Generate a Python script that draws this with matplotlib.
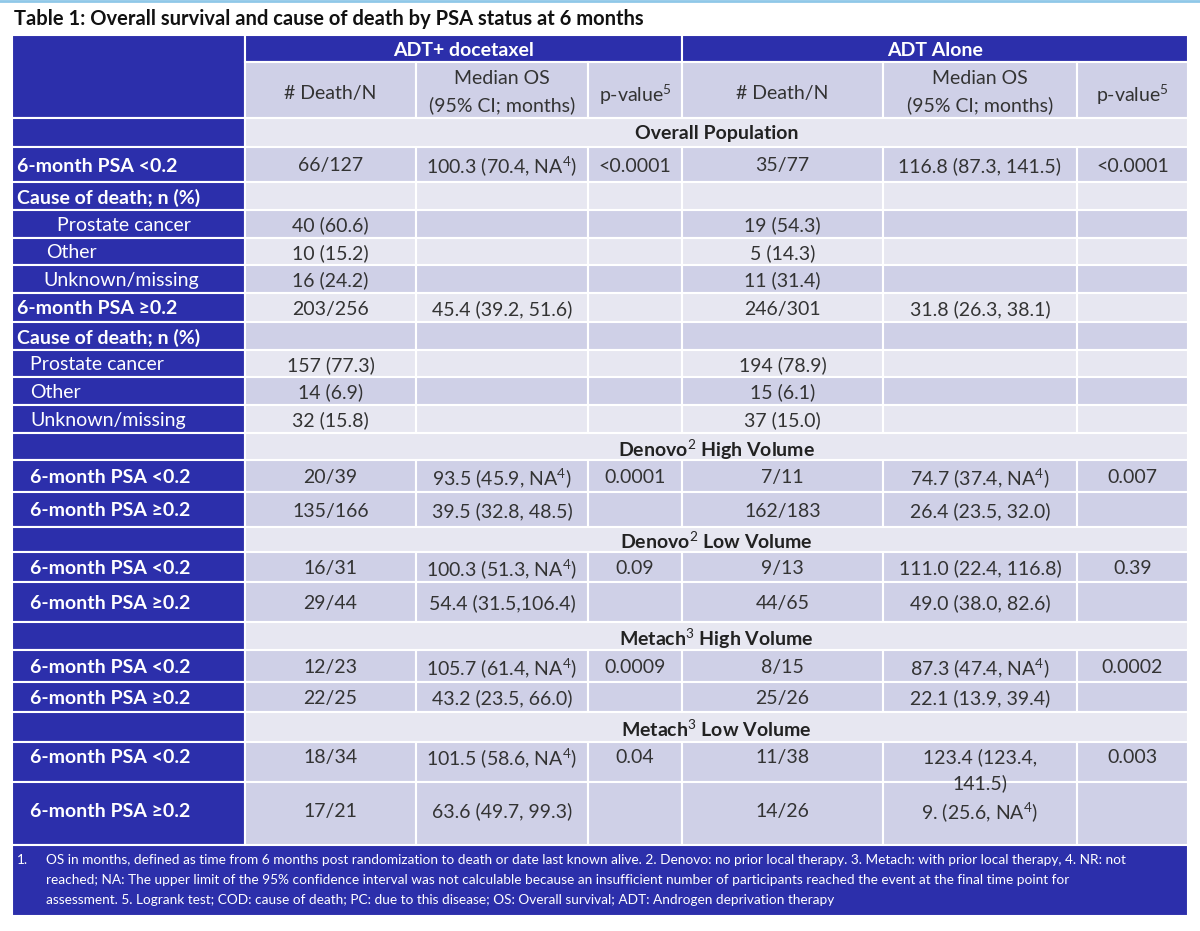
import matplotlib
matplotlib.use("Agg")
import matplotlib.pyplot as plt
from matplotlib.patches import Rectangle

plt.rcParams['font.family'] = ['Lato', 'DejaVu Sans']
plt.rcParams['mathtext.fontset'] = 'custom'
plt.rcParams['mathtext.rm'] = 'Lato'
plt.rcParams['mathtext.bf'] = 'Lato:bold'

TITLE = "Table 1: Overall survival and cause of death by PSA status at 6 months"
groups = ["ADT+ docetaxel", "ADT Alone"]
subheads = ["# Death/N", "Median OS\n(95% CI; months)", "p-value$^{5}$",
            "# Death/N", "Median OS\n(95% CI; months)", "p-value$^{5}$"]

# kind: S=section, P=PSA row (bold label), C=cause header (bold), I=item
kinds = ["S", "P", "C", "I", "I", "I", "P", "C", "I", "I", "I",
         "S", "P", "P", "S", "P", "P", "S", "P", "P", "S", "P", "P"]
labels = ["Overall Population", "6-month PSA <0.2", "Cause of death; n (%)",
          "Prostate cancer", "Other", "Unknown/missing", "6-month PSA ≥0.2",
          "Cause of death; n (%)", "Prostate cancer", "Other", "Unknown/missing",
          "Denovo$^{2}$ High Volume", "6-month PSA <0.2", "6-month PSA ≥0.2",
          "Denovo$^{2}$ Low Volume", "6-month PSA <0.2", "6-month PSA ≥0.2",
          "Metach$^{3}$ High Volume", "6-month PSA <0.2", "6-month PSA ≥0.2",
          "Metach$^{3}$ Low Volume", "6-month PSA <0.2", "6-month PSA ≥0.2"]
doc_deaths = ["", "66/127", "", "40 (60.6)", "10 (15.2)", "16 (24.2)", "203/256", "",
              "157 (77.3)", "14 (6.9)", "32 (15.8)", "", "20/39", "135/166", "",
              "16/31", "29/44", "", "12/23", "22/25", "", "18/34", "17/21"]
doc_os = ["", "100.3 (70.4, NA$^{4}$)", "", "", "", "", "45.4 (39.2, 51.6)", "", "", "", "",
          "", "93.5 (45.9, NA$^{4}$)", "39.5 (32.8, 48.5)", "", "100.3 (51.3, NA$^{4}$)",
          "54.4 (31.5,106.4)", "", "105.7 (61.4, NA$^{4}$)", "43.2 (23.5, 66.0)", "",
          "101.5 (58.6, NA$^{4}$)", "63.6 (49.7, 99.3)"]
doc_p = ["", "<0.0001", "", "", "", "", "", "", "", "", "", "", "0.0001", "", "",
         "0.09", "", "", "0.0009", "", "", "0.04", ""]
adt_deaths = ["", "35/77", "", "19 (54.3)", "5 (14.3)", "11 (31.4)", "246/301", "",
              "194 (78.9)", "15 (6.1)", "37 (15.0)", "", "7/11", "162/183", "",
              "9/13", "44/65", "", "8/15", "25/26", "", "11/38", "14/26"]
adt_os = ["", "116.8 (87.3, 141.5)", "", "", "", "", "31.8 (26.3, 38.1)", "", "", "", "",
          "", "74.7 (37.4, NA$^{4}$)", "26.4 (23.5, 32.0)", "", "111.0 (22.4, 116.8)",
          "49.0 (38.0, 82.6)", "", "87.3 (47.4, NA$^{4}$)", "22.1 (13.9, 39.4)", "",
          "123.4 (123.4,\n141.5)", "9. (25.6, NA$^{4}$)"]
adt_p = ["", "<0.0001", "", "", "", "", "", "", "", "", "", "", "0.007", "", "",
         "0.39", "", "", "0.0002", "", "", "0.003", ""]
footer = ["1.", "OS in months, defined as time from 6 months post randomization to death or date last known alive. 2. Denovo: no prior local therapy. 3. Metach: with prior local therapy, 4. NR: not",
          "reached; NA: The upper limit of the 95% confidence interval was not calculable because an insufficient number of participants reached the event at the final time point for",
          "assessment. 5. Logrank test; COD: cause of death; PC: due to this disease; OS: Overall survival; ADT: Androgen deprivation therapy"]

# layout (pixels)
xs = [12, 245, 416, 588, 682, 883, 1077, 1188]
ys = [118, 147, 182, 210, 238, 265, 293, 322, 350, 377, 405, 433, 460, 492, 527,
      552, 582, 622, 650, 682, 712, 742, 782, 845]
shade = ["L", "D", "L", "D", "L", "D", "L", "D", "L", "D", "L",
         "L", "D", "D", "L", "D", "D", "L", "D", "D", "L", "D", "D"]
BLUE = "#2C2FAB"; DARK = "#CFD0E7"; LIGHT = "#E7E7F1"; TXT = "#333333"
FS = 14

fig = plt.figure(figsize=(12, 9.31), dpi=100)
ax = fig.add_axes([0, 0, 1, 1])
ax.set_xlim(0, 1200); ax.set_ylim(931, 0); ax.axis("off")

def rect(x0, y0, x1, y1, c):
    ax.add_patch(Rectangle((x0, y0), x1 - x0, y1 - y0, facecolor=c, edgecolor="white", lw=1.5))

ax.plot([0, 1200], [1, 1], color="#8FC8E8", lw=2)
ax.text(14, 17, TITLE, fontsize=14.5, fontweight="bold", va="center_baseline", color="#111111")

# headers
rect(xs[0], 35, xs[1], 118, BLUE)
rect(xs[1], 35, xs[4], 62, BLUE); rect(xs[4], 35, xs[7], 62, BLUE)
ax.text((xs[1] + xs[4]) / 2, 49, groups[0], ha="center", va="center_baseline", color="white", fontsize=FS, fontweight="bold")
ax.text((xs[4] + xs[7]) / 2, 49, groups[1], ha="center", va="center_baseline", color="white", fontsize=FS, fontweight="bold")
for j in range(6):
    rect(xs[j + 1], 62, xs[j + 2], 118, DARK)
    s = subheads[j]
    cx = (xs[j + 1] + xs[j + 2]) / 2
    if "\n" in s:
        a, b = s.split("\n")
        ax.text(cx, 77, a, ha="center", va="center_baseline", color=TXT, fontsize=FS)
        ax.text(cx, 104, b, ha="center", va="center_baseline", color=TXT, fontsize=FS)
    else:
        ax.text(cx, 92, s, ha="center", va="center_baseline", color=TXT, fontsize=FS)

cols = [doc_deaths, doc_os, doc_p, adt_deaths, adt_os, adt_p]
for i, k in enumerate(kinds):
    y0, y1 = ys[i], ys[i + 1]
    c = DARK if shade[i] == "D" else LIGHT
    rect(xs[0], y0, xs[1], y1, BLUE)
    if i == 21:
        ty = y0 + 14
    elif i == 22:
        ty = y0 + 28
    else:
        ty = (y0 + y1) / 2
    if k == "S":
        rect(xs[1], y0, xs[7], y1, c)
        ax.text((xs[1] + xs[7]) / 2, ty, labels[i], ha="center", va="center_baseline",
                color="#222222", fontsize=FS, fontweight="bold")
        continue
    for j in range(6):
        rect(xs[j + 1], y0, xs[j + 2], y1, c)
        v = cols[j][i]
        if v:
            parts = v.split("\n")
            for n, p in enumerate(parts):
                ax.text((xs[j + 1] + xs[j + 2]) / 2, ty + n * 26, p,
                        ha="center", va="center_baseline", color=TXT, fontsize=FS)
    first = i < 11
    if k == "P":
        lx = 17 if first else 30
        ax.text(lx, ty, labels[i], ha="left",
                va="center_baseline", color="white", fontsize=FS, fontweight="bold")
    elif k == "C":
        ax.text(17, ty, labels[i], ha="left", va="center_baseline", color="white", fontsize=FS, fontweight="bold")
    else:
        lx = 57 if i < 6 else 30
        if labels[i] == "Other" and i < 6:
            lx = 46
        if labels[i] == "Unknown/missing" and i < 6:
            lx = 43
        ax.text(lx, ty, labels[i], ha="left", va="center_baseline", color="white", fontsize=FS)

# footer
rect(xs[0], 845, xs[7], 916, BLUE)
ax.text(17, 859, footer[0], color="white", fontsize=9.8, va="center_baseline")
for n, line in enumerate(footer[1:]):
    ax.text(46, 859 + n * 20, line, color="white", fontsize=9.8, va="center_baseline")

fig.savefig("out.png", dpi=100)
